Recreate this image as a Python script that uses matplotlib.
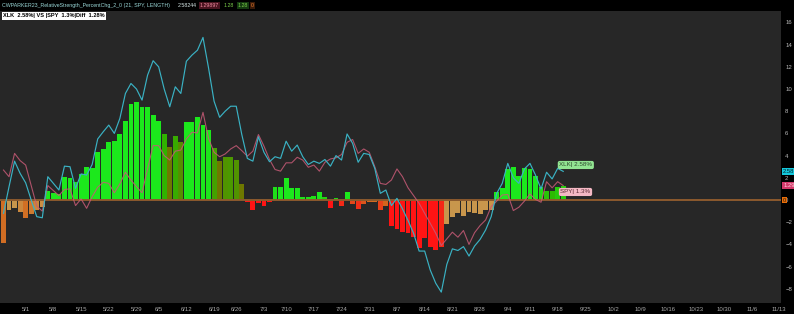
import matplotlib
matplotlib.use("Agg")
import matplotlib.pyplot as plt
import numpy as np
import pandas as pd
from matplotlib.colors import LinearSegmentedColormap

# daily values, 4/25/2023 .. 9/19/2023 (trading days)
diff = [-3.9, -0.9, -0.7, -1.1, -1.6, -1.3, -0.9, -0.6, 0.8, 0.6,
        0.5, 2.1, 2.0, 1.6, 2.3, 3.0, 2.9, 4.35, 4.6, 5.2,
        5.35, 5.95, 7.15, 8.65, 8.8, 8.35, 8.35, 7.7, 7.1, 5.95,
        4.8, 5.8, 5.2, 7.0, 7.0, 7.45, 6.75, 6.35, 4.65, 3.55,
        3.9, 3.9, 3.6, 1.45, -0.15, -0.9, -0.25, -0.55, -0.15, 1.2,
        1.2, 2.0, 1.1, 1.1, 0.3, 0.3, 0.35, 0.7, 0.25, -0.7,
        0.2, -0.5, 0.75, -0.35, -0.85, -0.4, -0.2, -0.15, -0.9, -0.5,
        -2.3, -2.6, -2.85, -2.95, -3.3, -4.3, -3.4, -4.2, -4.5, -4.2,
        -2.2, -1.5, -1.2, -1.45, -1.05, -1.2, -1.25, -0.9, -0.9, 0.7,
        1.05, 2.8, 2.95, 2.15, 2.9, 2.75, 2.2, 1.2, 0.85, 0.8,
        1.2, 1.28]

xlk = [-1.2, 1.2, 3.5, 2.4, 1.55, 0.0, -1.5, -1.6, 2.1, 1.5,
       0.9, 3.05, 3.0, 1.05, 2.35, 2.25, 3.2, 5.5, 6.15, 6.75,
       6.0, 7.35, 9.6, 10.5, 10.0, 9.0, 11.25, 12.55, 12.0, 10.0,
       8.4, 10.2, 9.6, 12.5, 13.05, 13.5, 14.65, 11.9, 8.9, 7.45,
       8.0, 8.45, 8.45, 5.9, 3.75, 3.5, 5.7, 4.3, 3.45, 3.9,
       3.75, 5.3, 4.4, 4.95, 3.9, 3.2, 3.5, 3.3, 3.65, 3.05,
       4.0, 3.6, 5.95, 5.1, 3.4, 4.2, 4.1, 2.85, 0.6, 0.9,
       -0.5, 0.15, -0.8, -1.85, -3.0, -4.6, -4.6, -6.3, -7.5, -8.3,
       -5.8, -4.4, -4.55, -4.2, -5.05, -4.15, -3.55, -2.7, -1.5, 0.6,
       1.5, 3.3, 2.0, 1.5, 2.8, 3.3, 2.25, 1.0, 2.5, 1.9,
       2.85, 2.58]

spy = [2.7, 2.1, 4.2, 3.55, 3.15, 1.3, -0.55, -1.0, 1.3, 0.85,
       0.4, 0.95, 1.0, -0.5, 0.1, -0.75, 0.3, 1.15, 1.6, 1.5,
       0.65, 1.45, 2.5, 1.8, 1.2, 0.65, 2.8, 4.9, 4.9, 4.0,
       3.6, 4.4, 4.5, 5.5, 6.1, 6.05, 7.9, 5.55, 4.3, 3.9,
       4.15, 4.6, 4.9, 4.45, 3.95, 4.4, 5.9, 4.85, 3.65, 2.75,
       2.6, 3.35, 3.35, 3.85, 3.6, 2.95, 3.15, 2.6, 3.4, 3.7,
       3.8, 4.1, 5.2, 5.45, 4.2, 4.6, 4.3, 3.0, 1.5, 1.4,
       1.8, 2.8, 2.1, 1.1, 0.4, -0.3, -1.2, -2.1, -3.0, -4.1,
       -3.5, -2.9, -3.35, -2.75, -4.0, -2.95, -2.3, -1.8, -0.6, -0.1,
       0.45, 0.5, -0.95, -0.65, -0.1, 0.55, 0.05, -0.2, 1.65, 1.1,
       1.65, 1.30]

tick_labels = ['5/1', '5/8', '5/15', '5/22', '5/29', '6/5', '6/12', '6/19',
               '6/26', '7/3', '7/10', '7/17', '7/24', '7/31', '8/7', '8/14',
               '8/21', '8/28', '9/4', '9/11', '9/18', '9/25', '10/2', '10/9',
               '10/16', '10/23', '10/30', '11/6', '11/13']
holidays = ['2023-05-29', '2023-06-19', '2023-07-04', '2023-09-04']

# trading calendar used for the x axis
days = pd.bdate_range('2023-04-25', '2023-11-17')
days = days[~days.isin(pd.to_datetime(holidays))]
tick_pos = [int(np.searchsorted(days, pd.Timestamp('2023/' + t))) for t in tick_labels]

x = np.arange(len(diff))
d = np.array(diff)

# bar shade follows the diff against its recent average
pos_cmap = LinearSegmentedColormap.from_list('pos', ['#6e7800', '#2fb400', '#1ce81c'])
neg_cmap = LinearSegmentedColormap.from_list('neg', ['#c8964c', '#d2691e', '#ff1414'])
colors = []
for i in range(len(d)):
    ref = d[max(0, i - 10):i].mean() if i > 0 else d[i]
    m = d[i] - ref
    if d[i] >= 0:
        colors.append(pos_cmap(np.clip(0.5 + (m + 1.3) / 2.5, 0, 1)))
    else:
        colors.append(neg_cmap(np.clip(0.45 - m / 2.5, 0, 1)))

W, H = 794, 314
fig = plt.figure(figsize=(W / 100, H / 100), dpi=100, facecolor='black')
ax = fig.add_axes([0, 11 / H, 781 / W, 292 / H])
ax.set_facecolor('#272727')

ax.bar(x, diff, width=0.88, color=colors, zorder=2)
ax.axhline(0, color='#8c5a2e', lw=1.4, zorder=3)
ax.plot(x, spy, color='#c65a76', lw=0.8, alpha=0.85, zorder=4)
ax.plot(x, xlk, color='#3ab2c4', lw=0.85, zorder=5)

ax.set_xlim(-0.63, 140.3)
ax.set_ylim(-9.28, 17.03)
for s in ax.spines.values():
    s.set_visible(False)

ax.set_xticks(tick_pos)
ax.set_xticklabels(tick_labels)
ax.yaxis.tick_right()
ax.set_yticks(range(-8, 17, 2))
ax.tick_params(axis='x', length=0, pad=3, labelsize=4.3, colors='#a8a8a8')
ax.tick_params(axis='y', length=0, pad=3, labelsize=4.3, colors='#b8b8b8')
for lab in ax.get_xticklabels() + ax.get_yticklabels():
    lab.set_family(['Liberation Sans', 'DejaVu Sans'])

# last value tags on the price axis
tags = [(xlk[-1], '2.58', '#14c8dc', '#002028'),
        (spy[-1], '1.29', '#d2386a', '#ffd0dc'),
        (0, '0', '#e86e0a', '#2a1400')]
for val, txt, bg, fg in tags:
    ax.annotate(txt, xy=(1.0, val), xycoords=('axes fraction', 'data'),
                xytext=(1.5, 0), textcoords='offset points', ha='left', va='center',
                fontsize=4.2, color=fg, family='Liberation Sans', annotation_clip=False,
                bbox=dict(boxstyle='square,pad=0.15', fc=bg, ec='none'))

# bubbles at the last bar
ax.text(x[-1] - 0.7, xlk[-1] + 0.35, 'XLK| 2.58%', fontsize=4.5, color='#2e4a2e',
        family='Liberation Sans', ha='left', va='bottom', zorder=6,
        bbox=dict(boxstyle='round,pad=0.25,rounding_size=0.3', fc='#92e492', ec='none'))
ax.text(x[-1] - 0.5, spy[-1] - 0.35, 'SPY| 1.3%', fontsize=4.5, color='#5a2a34',
        family='Liberation Sans', ha='left', va='top', zorder=6,
        bbox=dict(boxstyle='round,pad=0.25,rounding_size=0.3', fc='#f4b8c4', ec='none'))

# header
def px(xp, yp):
    return xp / W, 1 - yp / H

hdr = [(2, 'CWPARKER23_RelativeStrength_PercentChg_2_0 (21, SPY, LENGTH)', '#9ad8d8', None),
       (178, '2.58244', '#d8e8e8', None),
       (200, '1.29897', '#f08ca0', '#4a1420'),
       (224, '1.28', '#7cd04a', None),
       (238, '1.28', '#7cd04a', '#143a10'),
       (251, '0', '#f08030', '#3a1a08')]
for xp, txt, col, bg in hdr:
    kw = {}
    if bg:
        kw['bbox'] = dict(boxstyle='square,pad=0.2', fc=bg, ec='none')
    fig.text(*px(xp, 5.5), txt, fontsize=3.8, color=col, ha='left', va='center',
             family='Liberation Sans', **kw)

fig.text(*px(3, 16), 'XLK  2.58%| VS |SPY  1.3%|Diff  1.28%', fontsize=4.1,
         color='black', ha='left', va='center', family='Liberation Sans', weight='bold',
         bbox=dict(boxstyle='square,pad=0.25', fc='white', ec='none'))

fig.savefig('out.png', dpi=100, facecolor='black')
